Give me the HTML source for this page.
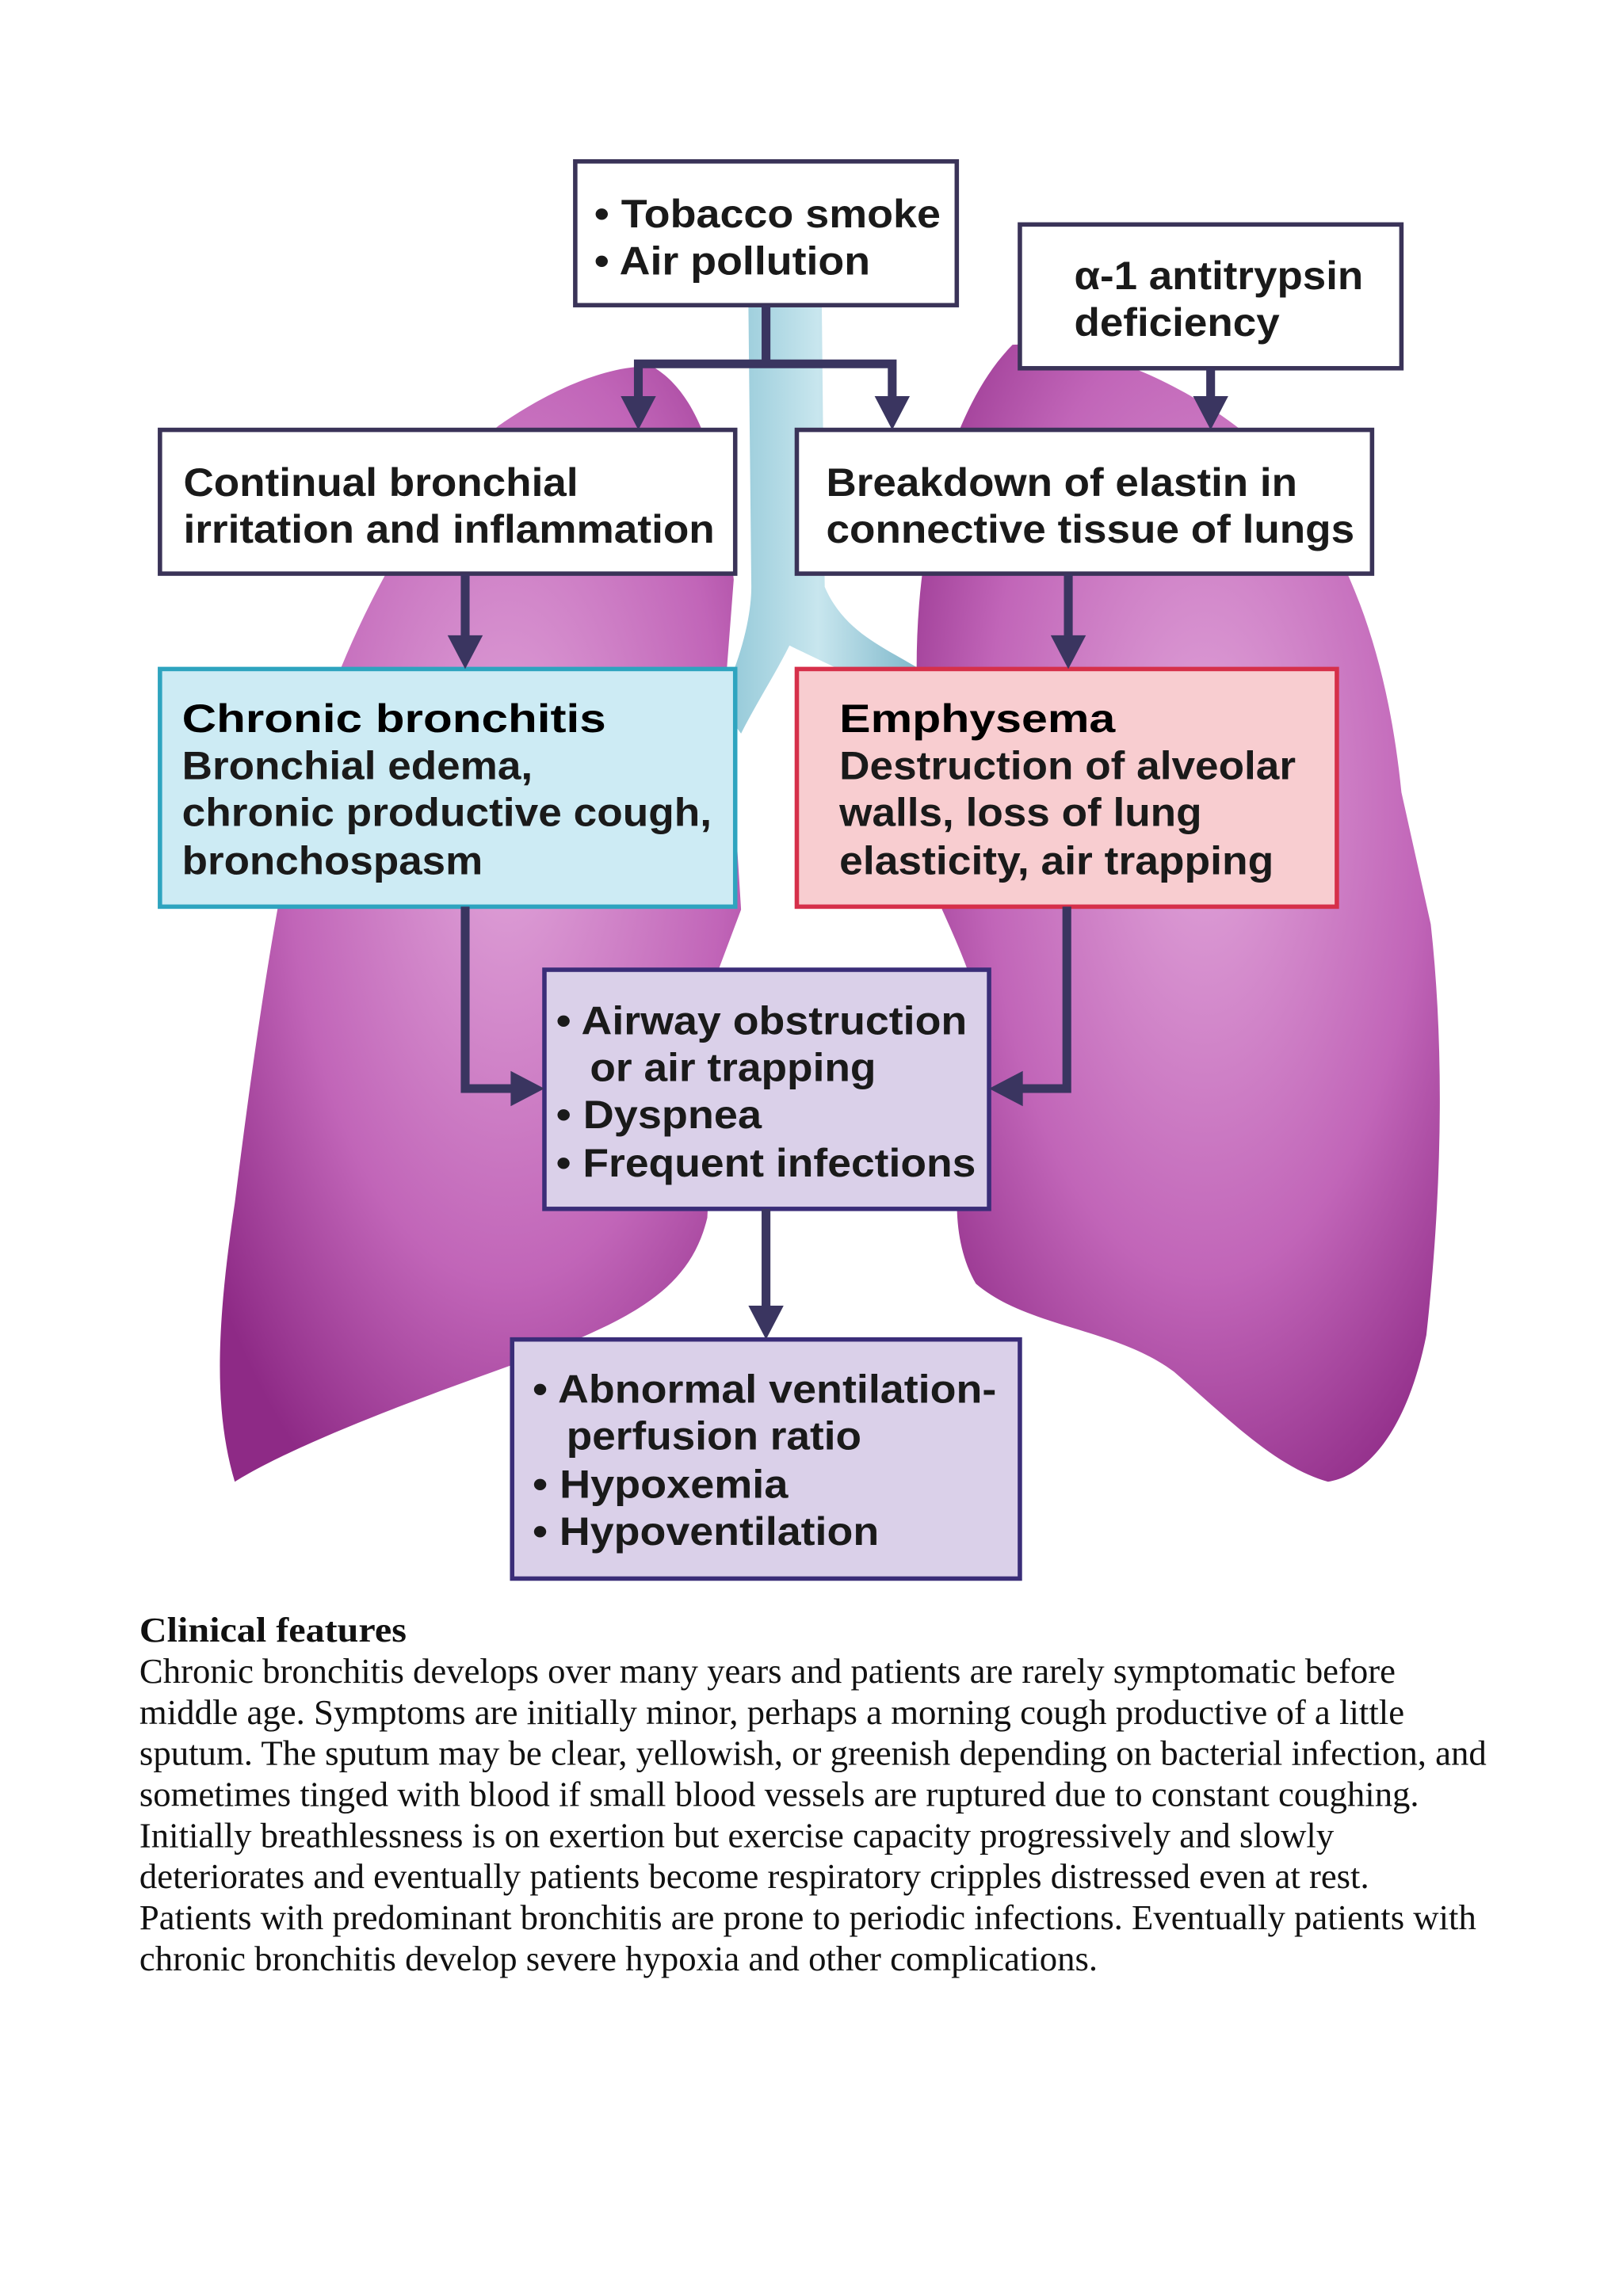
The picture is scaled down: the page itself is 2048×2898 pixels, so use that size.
<!DOCTYPE html>
<html><head><meta charset="utf-8"><style>
html,body{margin:0;padding:0;background:#fff;}
svg{display:block;}
.b{font-family:"Liberation Sans",sans-serif;font-weight:bold;font-size:27px;fill:#1a1a1a;}
.s{font-family:"Liberation Serif",serif;font-size:24px;fill:#111;}
</style></head><body>
<svg width="2048" height="2898" viewBox="0 0 1106 1565" xmlns="http://www.w3.org/2000/svg">
<defs>
<radialGradient id="lg" cx="0.55" cy="0.4" r="0.7">
<stop offset="0" stop-color="#e1a6da"/><stop offset="0.6" stop-color="#c165b8"/><stop offset="1" stop-color="#8e2a86"/>
</radialGradient>
<linearGradient id="tr" x1="0" x2="1"><stop offset="0" stop-color="#8fc6d6"/><stop offset="0.5" stop-color="#c8e6ee"/><stop offset="1" stop-color="#7fb8cb"/></linearGradient>
</defs>
<rect width="1106" height="1565" fill="#fff"/>
<!-- lungs -->
<path d="M445,250 C470,265 490,300 500,395 L495,460 L505,620 L490,660 L482,830 C470,880 430,900 350,930 C280,955 200,985 160,1010 C145,960 148,900 160,820 C175,700 190,600 210,520 C235,430 290,330 340,290 C380,262 420,248 445,250 Z" fill="url(#lg)"/>
<path d="M690,235 C740,232 810,260 860,305 C915,360 945,440 955,540 L975,630 C985,720 982,820 972,910 C960,970 935,1005 905,1010 C870,1000 840,970 800,935 C760,905 700,905 665,875 C645,840 650,790 668,740 C678,700 660,660 642,620 C628,540 618,460 630,380 C640,320 660,265 690,235 Z" fill="url(#lg)"/>
<!-- trachea -->
<path d="M510,208 L560,208 L562,400 C575,430 600,440 625,455 L600,470 C570,455 548,445 538,440 C528,460 515,480 505,500 L490,480 C505,450 512,420 512,400 Z" fill="url(#tr)"/>
<!-- boxes -->
<g stroke-width="3">
<rect x="392" y="110" width="260" height="98" fill="#fff" stroke="#3a3358"/>
<rect x="695" y="153" width="260" height="98" fill="#fff" stroke="#3a3358"/>
<rect x="109" y="293" width="392" height="98" fill="#fff" stroke="#3a3358"/>
<rect x="543" y="293" width="392" height="98" fill="#fff" stroke="#3a3358"/>
<rect x="109" y="456" width="392" height="162" fill="#cdebf4" stroke="#2ea4bf"/>
<rect x="543" y="456" width="368" height="162" fill="#f8cdd0" stroke="#d6304a"/>
<rect x="371" y="661" width="303" height="163" fill="#dad0e9" stroke="#3a2d78"/>
<rect x="349" y="913" width="346" height="163" fill="#dad0e9" stroke="#3a2d78"/>
</g>
<!-- connectors -->
<g stroke="#3a3560" stroke-width="6" fill="none">
<path d="M522,208 V248 M432,248 H611 M435,248 V272 M608,248 V272"/>
<path d="M825,251 V272"/>
<path d="M317,391 V435"/>
<path d="M728,391 V435"/>
<path d="M317,618 V742 H350"/>
<path d="M727,618 V742 H695"/>
<path d="M522,824 V892"/>
</g>
<g fill="#3a3560">
<polygon points="423,270 447,270 435,293"/>
<polygon points="596,270 620,270 608,293"/>
<polygon points="813,270 837,270 825,293"/>
<polygon points="305,433 329,433 317,456"/>
<polygon points="716,433 740,433 728,456"/>
<polygon points="348,730 348,754 371,742"/>
<polygon points="697,730 697,754 674,742"/>
<polygon points="510,890 534,890 522,913"/>
</g>
<!-- box text -->
<g class="b" lengthAdjust="spacingAndGlyphs">
<text x="405" y="155" textLength="236" lengthAdjust="spacingAndGlyphs">• Tobacco smoke</text>
<text x="405" y="187" textLength="188" lengthAdjust="spacingAndGlyphs">• Air pollution</text>
<text x="732" y="197" textLength="197" lengthAdjust="spacingAndGlyphs">α-1 antitrypsin</text>
<text x="732" y="229" textLength="140" lengthAdjust="spacingAndGlyphs">deficiency</text>
<text x="125" y="338" textLength="269" lengthAdjust="spacingAndGlyphs">Continual bronchial</text>
<text x="125" y="370" textLength="362" lengthAdjust="spacingAndGlyphs">irritation and inflammation</text>
<text x="563" y="338" textLength="321" lengthAdjust="spacingAndGlyphs">Breakdown of elastin in</text>
<text x="563" y="370" textLength="360" lengthAdjust="spacingAndGlyphs">connective tissue of lungs</text>
<text x="124" y="499" textLength="289" lengthAdjust="spacingAndGlyphs" style="font-weight:900;fill:#000">Chronic bronchitis</text>
<text x="124" y="531" textLength="239" lengthAdjust="spacingAndGlyphs">Bronchial edema,</text>
<text x="124" y="563" textLength="361" lengthAdjust="spacingAndGlyphs">chronic productive cough,</text>
<text x="124" y="596" textLength="205" lengthAdjust="spacingAndGlyphs">bronchospasm</text>
<text x="572" y="499" textLength="188" lengthAdjust="spacingAndGlyphs" style="font-weight:900;fill:#000">Emphysema</text>
<text x="572" y="531" textLength="311" lengthAdjust="spacingAndGlyphs">Destruction of alveolar</text>
<text x="572" y="563" textLength="247" lengthAdjust="spacingAndGlyphs">walls, loss of lung</text>
<text x="572" y="596" textLength="296" lengthAdjust="spacingAndGlyphs">elasticity, air trapping</text>
<text x="379" y="705" textLength="280" lengthAdjust="spacingAndGlyphs">• Airway obstruction</text>
<text x="402" y="737" textLength="195" lengthAdjust="spacingAndGlyphs">or air trapping</text>
<text x="379" y="769" textLength="140" lengthAdjust="spacingAndGlyphs">• Dyspnea</text>
<text x="379" y="802" textLength="286" lengthAdjust="spacingAndGlyphs">• Frequent infections</text>
<text x="363" y="956" textLength="316" lengthAdjust="spacingAndGlyphs">• Abnormal ventilation-</text>
<text x="386" y="988" textLength="201" lengthAdjust="spacingAndGlyphs">perfusion ratio</text>
<text x="363" y="1021" textLength="174" lengthAdjust="spacingAndGlyphs">• Hypoxemia</text>
<text x="363" y="1053" textLength="236" lengthAdjust="spacingAndGlyphs">• Hypoventilation</text>
</g>
<!-- body text -->
<g class="s">
<text x="95" y="1119" textLength="182" lengthAdjust="spacingAndGlyphs" style="font-weight:bold">Clinical features</text>
<text x="95" y="1147" textLength="856" lengthAdjust="spacingAndGlyphs">Chronic bronchitis develops over many years and patients are rarely symptomatic before</text>
<text x="95" y="1175" textLength="862" lengthAdjust="spacingAndGlyphs">middle age. Symptoms are initially minor, perhaps a morning cough productive of a little</text>
<text x="95" y="1203" textLength="918" lengthAdjust="spacingAndGlyphs">sputum. The sputum may be clear, yellowish, or greenish depending on bacterial infection, and</text>
<text x="95" y="1231" textLength="872" lengthAdjust="spacingAndGlyphs">sometimes tinged with blood if small blood vessels are ruptured due to constant coughing.</text>
<text x="95" y="1259" textLength="814" lengthAdjust="spacingAndGlyphs">Initially breathlessness is on exertion but exercise capacity progressively and slowly</text>
<text x="95" y="1287" textLength="838" lengthAdjust="spacingAndGlyphs">deteriorates and eventually patients become respiratory cripples distressed even at rest.</text>
<text x="95" y="1315" textLength="911" lengthAdjust="spacingAndGlyphs">Patients with predominant bronchitis are prone to periodic infections. Eventually patients with</text>
<text x="95" y="1343" textLength="653" lengthAdjust="spacingAndGlyphs">chronic bronchitis develop severe hypoxia and other complications.</text>
</g>
</svg>
</body></html>
